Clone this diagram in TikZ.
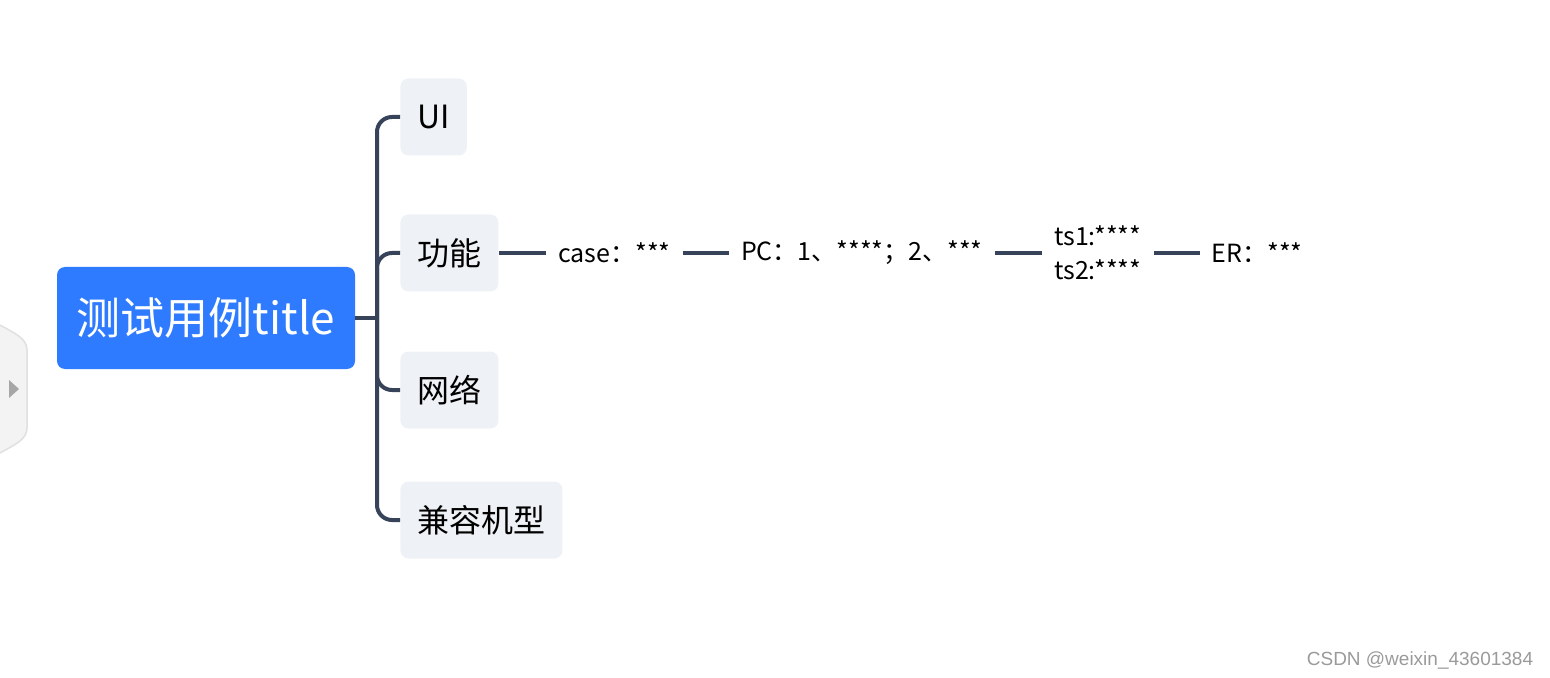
\documentclass[tikz,border=0pt]{standalone}
\usepackage{fontspec}
\setmainfont{Noto Sans CJK SC}
\newfontfamily\markfont{Liberation Sans}
\usetikzlibrary{positioning}
\definecolor{rootblue}{HTML}{2F7BFF}
\definecolor{topicgrey}{HTML}{EEF1F5}
\definecolor{linkslate}{HTML}{374359}
\definecolor{tabgrey}{HTML}{F3F3F3}
\definecolor{tabedge}{HTML}{E0E0E0}
\definecolor{arrowgrey}{HTML}{A6A6A6}
\definecolor{markgrey}{HTML}{9A9A9A}

\tikzset{
  rootbox/.style={fill=rootblue, text=white, rounded corners=4pt, minimum width=149pt, minimum height=51pt, font=\fontsize{22}{26}\selectfont},
  topicbox/.style={fill=topicgrey, rounded corners=4pt, anchor=west, inner xsep=8.5pt, minimum height=38.5pt, font=\fontsize{16}{19}\selectfont},
  detail/.style={inner xsep=6pt, align=center, font=\fontsize{12.5}{17}\selectfont},
  branch/.style={linkslate, line width=2pt, rounded corners=7.5pt},
  link/.style={linkslate, line width=1.75pt},
}

\begin{document}
\begin{tikzpicture}[x=0.5pt, y=-0.5pt]
\useasboundingbox (0,0) rectangle (1550,678);
% side tab
\filldraw[fill=tabgrey, draw=tabedge, line width=0.75pt] (0,325) .. controls (14,333) and (27,338) .. (27,350) -- (27,428) .. controls (27,440) and (14,445) .. (0,453);
\fill[arrowgrey] (9,380) -- (19,389) -- (9,398) -- cycle;

% topics
\node[rootbox] (root) at (206,318) {测试用例title};
\node[topicbox] (ui) at (400,117) {UI};
\node[topicbox] (func) at (400,253) {功能};
\node[topicbox] (net) at (400,390) {网络};
\node[topicbox] (compat) at (400,520) {兼容机型};

\coordinate (fork) at (377,318);
\draw[branch] (root.east) -- (fork);
\foreach \t in {ui,func,net,compat}
  \draw[branch] (fork) |- (\t.west);

% details
\node[detail, right=23.5pt of func] (case) {case：***};
\node[detail, right=23pt of case] (pc) {PC：1、****；2、***};
\node[detail, right=23.5pt of pc] (ts) {ts1:****\\ts2:****};
\node[detail, right=23pt of ts] (er) {ER：***};
\draw[link] (func) -- (case);
\draw[link] (case) -- (pc);
\draw[link] (pc) -- (ts);
\draw[link] (ts) -- (er);

\node[font=\markfont\fontsize{9.5}{11}\selectfont, text=markgrey] (mark) at (1420,660) {CSDN @weixin\_43601384};
\end{tikzpicture}
\end{document}
